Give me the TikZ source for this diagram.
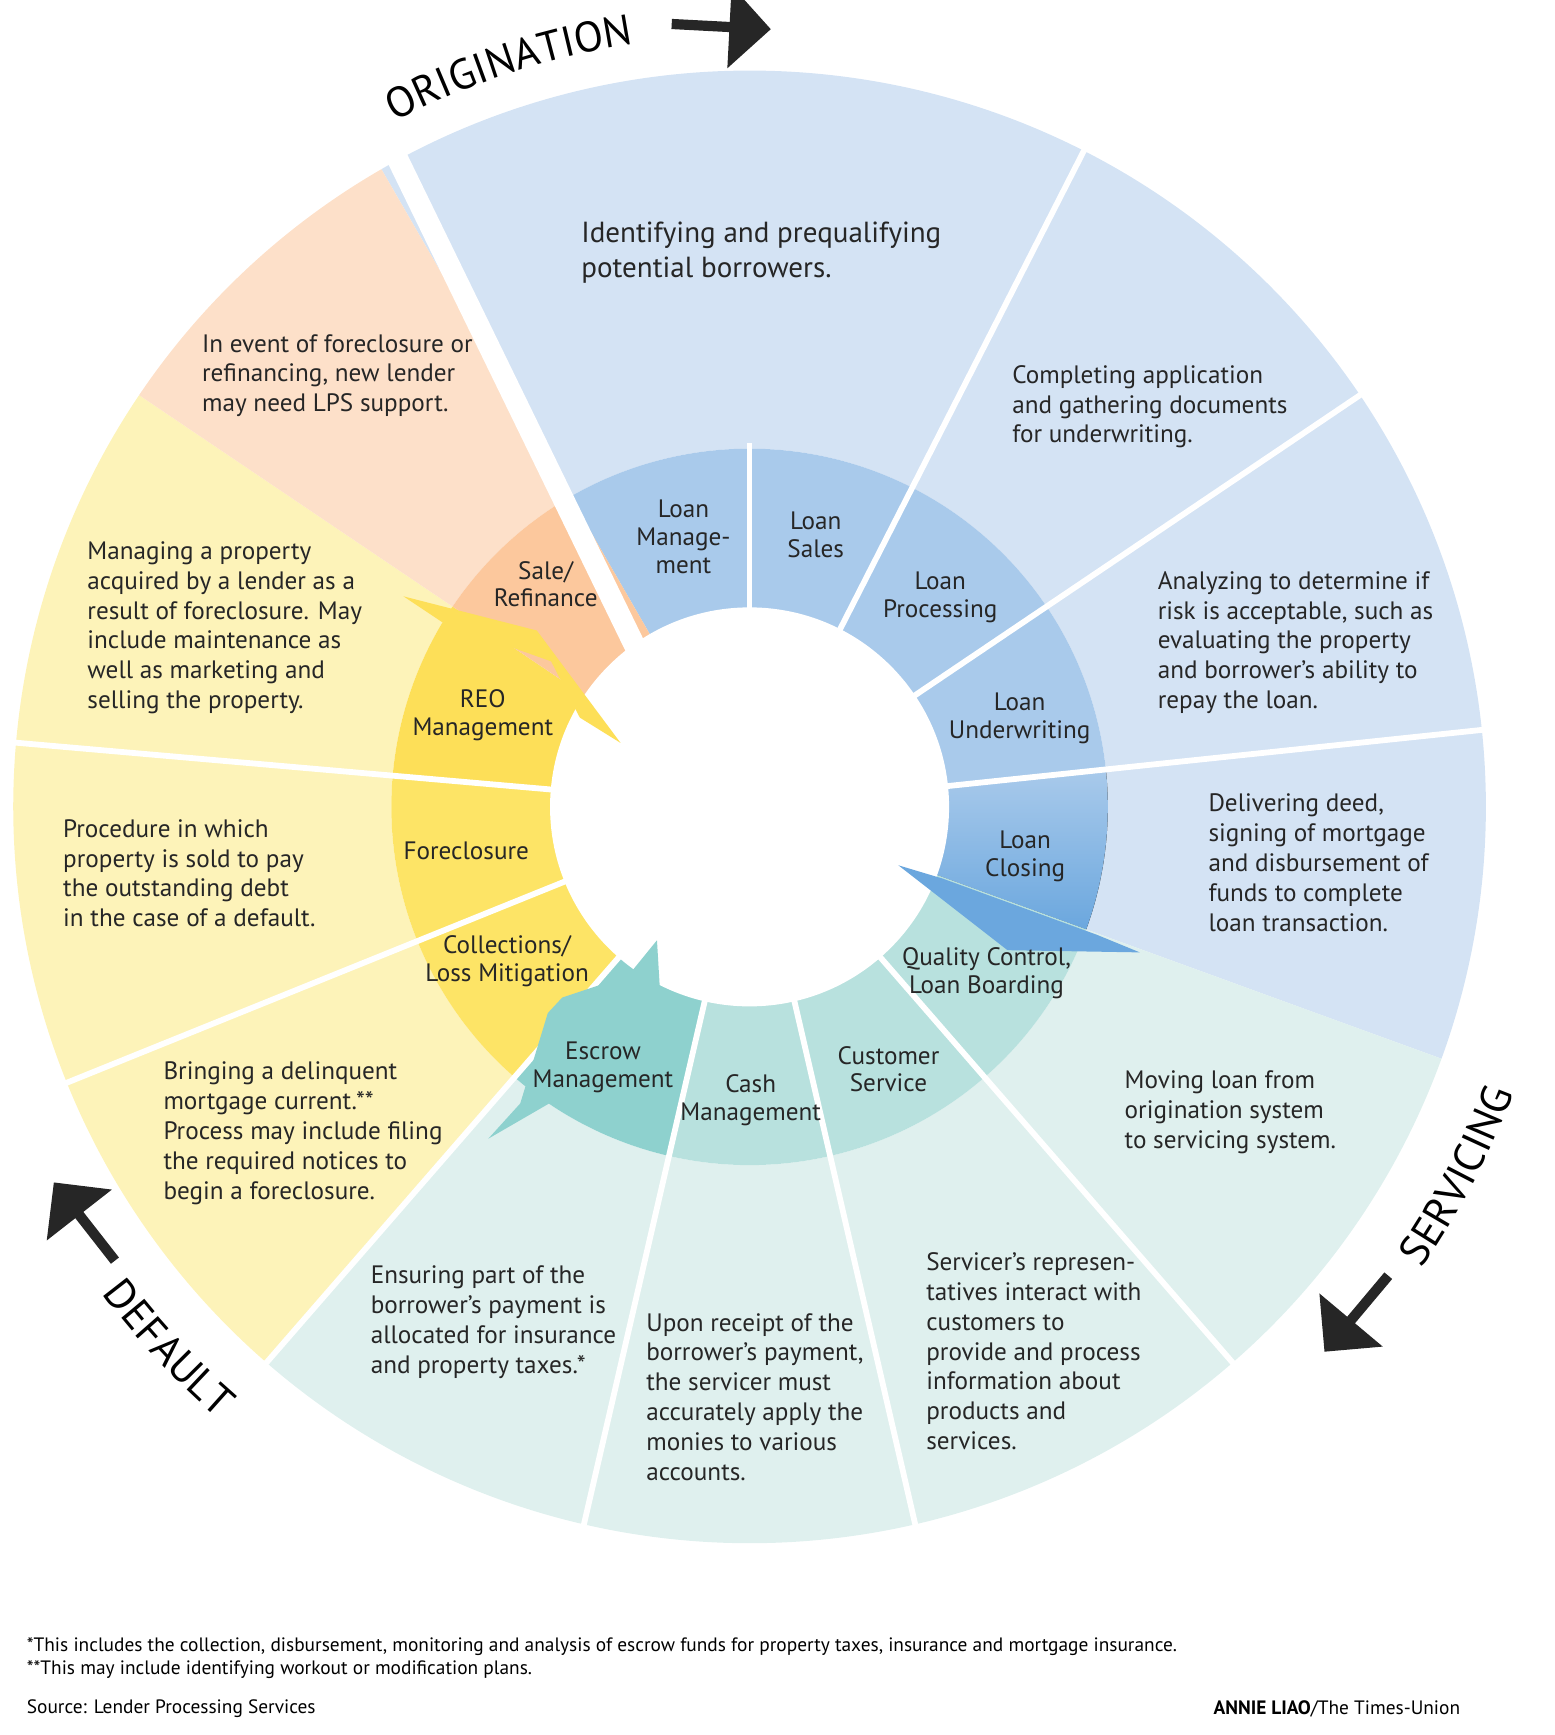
\documentclass[tikz,border=0pt]{standalone}
\usepackage{fontspec}
\setmainfont{PT Sans}
\usetikzlibrary{calc,shapes.arrows,decorations.text}
\definecolor{cob}{HTML}{D4E3F4}\definecolor{cib}{HTML}{A9CAEB}\definecolor{cdb}{HTML}{6BA7DE}
\definecolor{cos}{HTML}{DFF0EE}\definecolor{cis}{HTML}{B8E1DE}\definecolor{ces}{HTML}{8ED1CE}
\definecolor{cod}{HTML}{FDF3B9}\definecolor{cid}{HTML}{FDE466}\definecolor{cre}{HTML}{FDDF58}
\definecolor{cop}{HTML}{FDE0C9}\definecolor{cip}{HTML}{FCC89D}
\newcommand{\myseg}[5]{\fill[#5] ($(C)+(#1:#3)$) arc[start angle=#1,end angle=#2,radius=#3] -- ($(C)+(#2:#4)$) arc[start angle=#2,end angle=#1,radius=#4] -- cycle;}
\tikzset{
 desc/.style={anchor=north west,align=left,inner sep=0pt,text=black!85,font=\fontsize{13}{15.4}\selectfont},
 lab/.style={align=center,inner sep=0pt,text=black!85,font=\fontsize{13}{14.4}\selectfont},
 gap/.style={white,line width=3pt},
 bigarrow/.style={single arrow,fill=black!85,minimum height=1.8cm,minimum width=1.5cm,single arrow head extend=0.05cm,inner sep=0pt},
 head/.style={decorate,decoration={text along path,text align=center,text={|\fontsize{22}{22}\selectfont|#1}}}
}
\begin{document}
\begin{tikzpicture}[x=0.2mm,y=0.2mm]
\useasboundingbox (0,0) rectangle (1410,-1574);
\coordinate (C) at (680,-732);
% outer segments
\myseg{63}{120}{325}{668}{cob}
\myseg{34}{63}{325}{668}{cob}
\myseg{6}{34}{325}{668}{cob}
\myseg{-20}{6}{325}{668}{cob}
\myseg{-49}{-20}{325}{668}{cos}
\myseg{-77}{-49}{325}{668}{cos}
\myseg{-103}{-77}{325}{668}{cos}
\myseg{-131}{-103}{325}{668}{cos}
\myseg{-158}{-131}{325}{668}{cod}
\myseg{175}{202}{325}{668}{cod}
\myseg{146}{175}{325}{668}{cod}
\myseg{120}{146}{325}{668}{cop}
% inner ring
\myseg{63}{120}{170}{325}{cib}
\myseg{34}{63}{170}{325}{cib}
\myseg{6}{34}{170}{325}{cib}
\fill[top color=cib,bottom color=cdb] ($(C)+(-20:170)$) arc[start angle=-20,end angle=6,radius=170] -- ($(C)+(6:325)$) arc[start angle=6,end angle=-20,radius=325] -- cycle;
\myseg{-49}{-20}{170}{325}{cis}
\myseg{-77}{-49}{170}{325}{cis}
\myseg{-103}{-77}{170}{325}{cis}
\myseg{-131}{-103}{170}{325}{ces}
\myseg{-158}{-131}{170}{325}{cid}
\myseg{175}{202}{170}{325}{cid}
\myseg{146}{175}{170}{325}{cre}
\myseg{120}{146}{170}{325}{cip}
% separators
\foreach \a in {63,34,6,-49,-77,-103,-131,-158,175}{\draw[gap] ($(C)+(\a:170)$) -- ($(C)+(\a:672)$);}
\draw[gap] ($(C)+(90:170)$) -- ($(C)+(90:330)$);
\draw[white,line width=11pt] ($(C)+(126:170)$) -- ($(C)+(118.5:672)$);
% hub
\fill[white] (C) circle[radius=181];
% arrows
\fill[cre] (402,-565) -- (366,-541) -- (487,-572) -- (563,-674) -- (526,-651) -- (500,-600) -- cycle;
\fill[ces] (596,-853) -- (570,-885) -- (510,-905) -- (497,-919) -- (472,-1001) -- (443,-1033) -- (500,-1000) -- (560,-960) -- (600,-920)-- cycle;
\fill[cdb] (815,-785) -- (855,-797) -- (995,-848) -- (1034,-864) -- (914,-862) -- cycle;
% ring labels
\node[lab] (lm) at (620,-487) {Loan\\Manage-\\ment};
\node[lab] (ls) at (740,-485) {Loan\\Sales};
\node[lab] (lp) at (853,-542) {Loan\\Processing};
\node[lab] (lu) at (925,-652) {Loan\\Underwriting};
\node[lab] (lc) at (930,-777) {Loan\\Closing};
\node[lab] (qc) at (895,-883) {Quality Control,\\Loan Boarding};
\node[lab] (cs) at (806,-970) {Customer\\Service};
\node[lab] (cm) at (681,-998) {Cash\\Management};
\node[lab] (em) at (547,-968) {Escrow\\Management};
\node[lab] (cl) at (460,-872) {Collections/\\Loss Mitigation};
\node[lab] (fc) at (423,-772) {Foreclosure};
\node[lab] (reo) at (438,-649) {REO\\Management};
\node[lab] (sr) at (495,-530) {Sale/\\Refinance};
% descriptions
\node[desc,font=\fontsize{15}{18}\selectfont] (d1) at (527,-201) {Identifying and prequalifying\\potential borrowers.};
\node[desc] (d2) at (918,-331) {Completing application\\and gathering documents\\for underwriting.};
\node[desc] (d3) at (1050,-518) {Analyzing to determine if\\risk is acceptable, such as\\evaluating the property\\and borrower’s ability to\\repay the loan.};
\node[desc] (d4) at (1096,-720) {Delivering deed,\\signing of mortgage\\and disbursement of\\funds to complete\\loan transaction.};
\node[desc] (d5) at (1020,-971) {Moving loan from\\origination system\\to servicing system.};
\node[desc] (d6) at (840,-1136) {Servicer’s represen-\\tatives interact with\\customers to\\provide and process\\information about\\products and\\services.};
\node[desc] (d7) at (586,-1191) {Upon receipt of the\\borrower’s payment,\\the servicer must\\accurately apply the\\monies to various\\accounts.};
\node[desc] (d8) at (336,-1148) {Ensuring part of the\\borrower’s payment is\\allocated for insurance\\and property taxes.*};
\node[desc] (d9) at (148,-963) {Bringing a delinquent\\mortgage current.**\\Process may include filing\\the required notices to\\begin a foreclosure.};
\node[desc] (d10) at (57,-743) {Procedure in which\\property is sold to pay\\the outstanding debt\\in the case of a default.};
\node[desc] (d11) at (79,-491) {Managing a property\\acquired by a lender as a\\result of foreclosure. May\\include maintenance as\\well as marketing and\\selling the property.};
\node[desc] (d12) at (183,-303) {In event of foreclosure or\\refinancing, new lender\\may need LPS support.};
% headings
\path[head=ORIGINATION] ($(C)+(120:700)$) arc[start angle=120,end angle=96,radius=700];
\path[head=SERVICING] ($(C)+(-37:740)$) arc[start angle=-37,end angle=-18,radius=740];
\path[head=DEFAULT] ($(C)+(-146:735)$) arc[start angle=-146,end angle=-128,radius=735];
\node[bigarrow,rotate=-3] (a1) at (652,-24) {};
\node[bigarrow,rotate=-130] (a2) at (1232,-1190) {};
\node[bigarrow,rotate=128] (a3) at (78,-1110) {};
% footer
\node[anchor=west,inner sep=0pt,font=\fontsize{10}{12}\selectfont] (f1) at (24,-1494) {*This includes the collection, disbursement, monitoring and analysis of escrow funds for property taxes, insurance and mortgage insurance.};
\node[anchor=west,inner sep=0pt,font=\fontsize{10}{12}\selectfont] (f2) at (24,-1515) {**This may include identifying workout or modification plans.};
\node[anchor=west,inner sep=0pt,font=\fontsize{10}{12}\selectfont] (f3) at (24,-1550) {Source: Lender Processing Services};
\node[anchor=east,inner sep=0pt,font=\fontsize{10}{12}\selectfont] (f4) at (1325,-1550) {\textbf{ANNIE LIAO}/The Times-Union};
\end{tikzpicture}
\end{document}
